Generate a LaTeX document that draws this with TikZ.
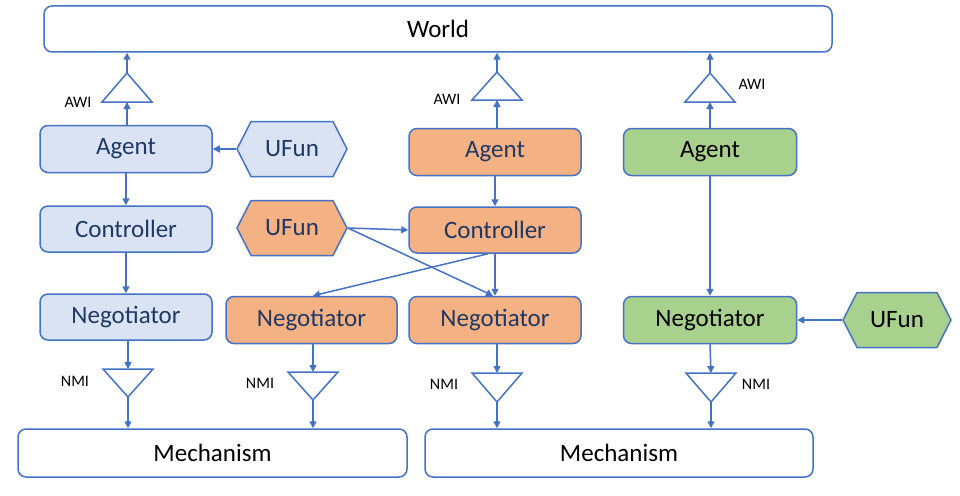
\documentclass[tikz,border=0pt]{standalone}
\usepackage{fontspec}
\setmainfont{Carlito}
\usetikzlibrary{arrows.meta,shapes.symbols}
\definecolor{ln}{HTML}{4472C4}
\definecolor{fb}{HTML}{DAE3F3}
\definecolor{fo}{HTML}{F4B183}
\definecolor{fg}{HTML}{A9D18E}
\definecolor{navy}{HTML}{1F3864}
\begin{document}
\begin{tikzpicture}[x=1pt,y=-1pt,
 box/.style={draw=ln, line width=1.5pt, rounded corners=8pt, minimum width=172pt, minimum height=47pt, inner sep=0pt, font=\fontsize{25}{30}\selectfont},
 bbox/.style={box, fill=fb, text=navy},
 obox/.style={box, fill=fo, text=navy},
 gbox/.style={box, fill=fg, text=black},
 wbox/.style={box, fill=white, text=black},
 hex/.style={signal, signal to=east and west, signal pointer angle=126, draw=ln, line width=1.5pt, minimum width=110pt, minimum height=55pt, inner sep=0pt, font=\fontsize{25}{30}\selectfont},
 arr/.style={draw=ln, line width=1.5pt, -{Triangle[length=7pt,width=7pt]}},
 tri/.style={draw=ln, line width=1.5pt, fill=white, line join=miter},
 lab/.style={font=\fontsize{16}{18}\selectfont, text=black}
]
\useasboundingbox (0,0) rectangle (960,495);

% boxes
\node[wbox, minimum width=788pt, minimum height=46pt] (World) at (438,29) {World};
\node[wbox, minimum width=389pt, minimum height=48pt] (MechL) at (212.5,453) {Mechanism};
\node[wbox, minimum width=388pt, minimum height=48pt] (MechR) at (619,453) {Mechanism};

\node[bbox] (AgentL) at (126,149) {Agent};
\node[bbox, minimum height=46pt] (CtrlL) at (126,229) {Controller};
\node[bbox, minimum height=46pt] (NegL) at (126,317) {Negotiator};
\node[hex, fill=fb, text=navy] (UFunL) at (292,149) {UFun};

\node[hex, fill=fo, text=navy] (UFunM) at (292,228) {UFun};
\node[obox, minimum width=171pt] (NegML) at (311.5,320) {Negotiator};
\node[obox] (AgentM) at (495,152) {Agent};
\node[obox, minimum height=46pt] (CtrlM) at (495,230) {Controller};
\node[obox] (NegMR) at (495,320) {Negotiator};

\node[gbox, minimum width=173pt] (AgentG) at (710,152) {Agent};
\node[gbox, minimum width=173pt] (NegG) at (710,320) {Negotiator};
\node[hex, fill=fg, text=black, minimum width=108pt] (UFunG) at (897,320) {UFun};

% interface triangle coordinates
\coordinate (awiLb) at (127,102); \coordinate (awiLt) at (127,73);
\coordinate (awiMb) at (497,100); \coordinate (awiMt) at (497,72);
\coordinate (awiGb) at (710,102); \coordinate (awiGt) at (710,73);
\coordinate (nmiLb) at (128,369); \coordinate (nmiLt) at (128,397);
\coordinate (nmiMLb) at (313,372); \coordinate (nmiMLt) at (313,400);
\coordinate (nmiMRb) at (497,373); \coordinate (nmiMRt) at (497,402);
\coordinate (nmiGb) at (711,373); \coordinate (nmiGt) at (711,402);

% connectors
\draw[arr] (awiLb |- AgentL.north) -- (awiLb);
\draw[arr] (awiLt) -- (awiLt |- World.south);
\draw[arr] (awiMb |- AgentM.north) -- (awiMb);
\draw[arr] (awiMt) -- (awiMt |- World.south);
\draw[arr] (awiGb |- AgentG.north) -- (awiGb);
\draw[arr] (awiGt) -- (awiGt |- World.south);

\draw[arr] (UFunL.west) -- (AgentL.east);
\draw[arr] (AgentL.south) -- (CtrlL.north);
\draw[arr] (CtrlL.south) -- (NegL.north);

\draw[arr] (AgentM.south) -- (CtrlM.north);
\draw[arr] (UFunM.east) -- (CtrlM.west);
\draw[arr] (UFunM.east) -- ([xshift=-2pt]NegMR.north);
\draw[arr] ([xshift=-7pt]CtrlM.south) -- ([xshift=1.5pt]NegML.north);
\draw[arr] (CtrlM.south) -- (NegMR.north);

\draw[arr] (AgentG.south) -- (NegG.north);
\draw[arr] (UFunG.west) -- (NegG.east);

\draw[arr] (nmiLb |- NegL.south) -- (nmiLb);
\draw[arr] (nmiLt) -- (nmiLt |- MechL.north);
\draw[arr] (nmiMLb |- NegML.south) -- (nmiMLb);
\draw[arr] (nmiMLt) -- (nmiMLt |- MechL.north);
\draw[arr] (nmiMRb |- NegMR.south) -- (nmiMRb);
\draw[arr] (nmiMRt) -- (nmiMRt |- MechR.north);
\draw[arr] (NegG.south) -- (nmiGb);
\draw[arr] (nmiGt) -- (nmiGt |- MechR.north);

% triangles
\draw[tri] (102,102) -- (awiLt) -- (152,102) -- cycle;
\draw[tri] (472,100) -- (awiMt) -- (522,100) -- cycle;
\draw[tri] (685,102) -- (awiGt) -- (735,102) -- cycle;
\draw[tri] (103,369) -- (nmiLt) -- (153,369) -- cycle;
\draw[tri] (288,372) -- (nmiMLt) -- (338,372) -- cycle;
\draw[tri] (472,373) -- (nmiMRt) -- (522,373) -- cycle;
\draw[tri] (686,373) -- (nmiGt) -- (736,373) -- cycle;

% labels
\node[lab] (lawiL) at (78,102) {AWI};
\node[lab] (lawiM) at (447,99) {AWI};
\node[lab] (lawiG) at (752,84) {AWI};
\node[lab] (lnmiL) at (75,381) {NMI};
\node[lab] (lnmiML) at (260,383) {NMI};
\node[lab] (lnmiMR) at (444,384) {NMI};
\node[lab] (lnmiG) at (756,384) {NMI};
\end{tikzpicture}
\end{document}
